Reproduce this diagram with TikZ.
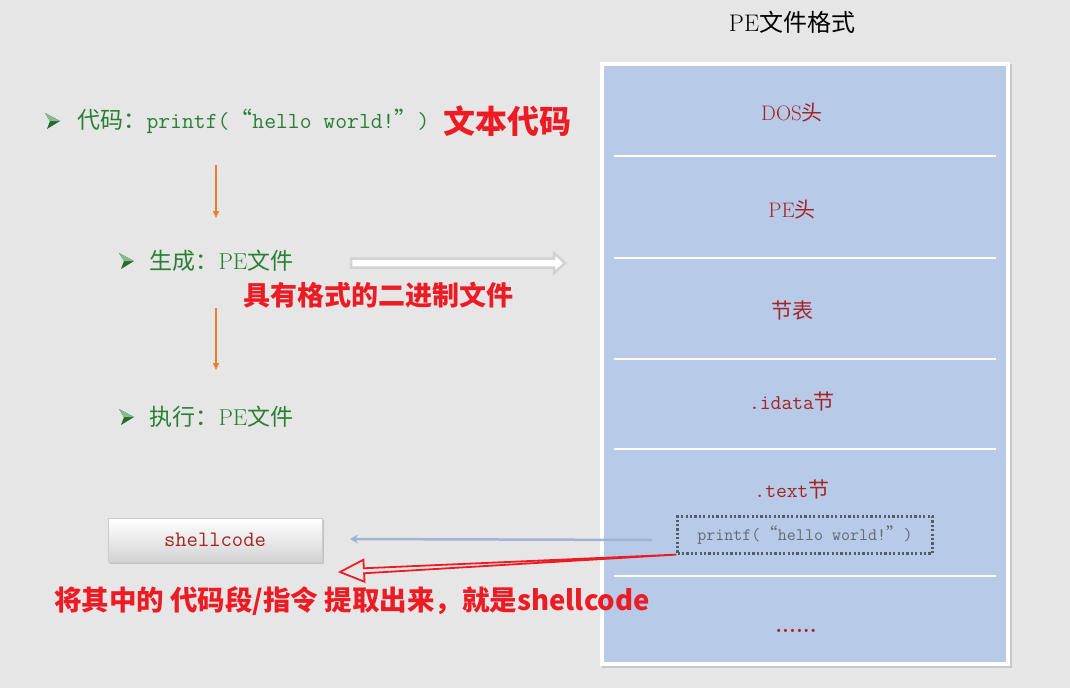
\documentclass[tikz,border=0pt]{standalone}
\usepackage{fontspec}
\newfontfamily\cjk{Noto Sans CJK SC}
\usetikzlibrary{arrows.meta,calc,shadows}

\definecolor{bgcol}{RGB}{230,230,230}
\definecolor{peblue}{RGB}{183,203,233}
\definecolor{codegreen}{RGB}{40,128,50}
\definecolor{pered}{RGB}{165,35,35}
\definecolor{hotred}{RGB}{237,28,36}
\definecolor{arroworange}{RGB}{237,125,49}
\definecolor{blueline}{RGB}{160,180,212}
\definecolor{dotgray}{RGB}{85,92,105}
\definecolor{codegray}{RGB}{100,105,115}

\newcommand{\monotxt}[1]{{\ttfamily #1}}

\tikzset{
  greentext/.style={text=codegreen, anchor=west, font=\fontsize{23}{27}\selectfont},
  redbold/.style={text=hotred, font=\cjk\bfseries\fontsize{27}{30}\selectfont},
  petext/.style={text=pered, font=\fontsize{21}{24}\selectfont},
  sepline/.style={white, line width=2pt},
  flowarrow/.style={draw=arroworange, line width=1.3pt, -{Triangle[length=7pt,width=6pt]}},
  shellbtn/.style={draw=gray!40, top color=white, bottom color=gray!35, drop shadow={opacity=0.35},
    minimum width=214pt, minimum height=44pt, text=pered, font=\fontsize{22}{24}\selectfont},
}

\begin{document}
\begin{tikzpicture}[x=1pt,y=-1pt]
\useasboundingbox (0,0) rectangle (1070,688);
\fill[bgcol] (0,0) rectangle (1070,688);

% PE layout on the right
\fill[white, drop shadow={opacity=0.3}] (600,62) rectangle (1010,666);
\fill[peblue] (604,66) rectangle (1006,662);
\foreach \y in {156,258,359,449,576}
  \draw[sepline] (614,\y) -- (996,\y);

\node (title) at (792,22) {\fontsize{24}{28}\selectfont PE{\cjk 文件格式}};
\node[petext] (dos) at (792,113) {DOS{\cjk 头}};
\node[petext] (pehead) at (792,210) {PE{\cjk 头}};
\node[petext] (sectab) at (792,311) {\cjk 节表};
\node[petext] (idata) at (792,401) {\monotxt{.idata}{\cjk 节}};
\node[petext] (textsec) at (792,489) {\monotxt{.text}{\cjk 节}};
\node[draw=dotgray, dash pattern=on 2.2pt off 2.2pt, line width=2.2pt, minimum width=255pt, minimum height=37pt,
  text=codegray, font=\fontsize{17.5}{20}\selectfont] (ptf) at (805,535)
  {\monotxt{printf(}{\cjk “}\monotxt{hello world!}{\cjk ”}\monotxt{)}};
\node[petext, font=\bfseries\fontsize{22}{24}\selectfont] (more) at (796,631) {......};

% left side
\foreach \bx/\by in {52/121,126/261,126/417} {
  \fill[codegreen!85!black] (\bx-7,\by-8) -- (\bx+8,\by) -- (\bx-5,\by+8) -- (\bx-2,\by) -- cycle;
  \fill[codegreen!55!white] (\bx-7,\by-8) -- (\bx+8,\by) -- (\bx-2,\by) -- cycle;
}
\node[greentext] (code) at (74,121)
  {{\cjk 代码：}\monotxt{printf(}{\cjk “}\monotxt{hello world!}{\cjk ”}\monotxt{)}};
\node[redbold, font=\cjk\bfseries\fontsize{32}{36}\selectfont, anchor=west] (plain) at (440,121) {文本代码};

\coordinate (a1) at (216,165);
\coordinate (a2) at (216,218);
\draw[flowarrow] (a1) -- (a2);

\node[greentext] (gen) at (146,261) {{\cjk 生成：}PE{\cjk 文件}};

\coordinate (w1) at (351,263);
\coordinate (w2) at (565,263);
\draw[gray!35, fill=white, line width=2.5pt, line join=miter] ($(w1)+(0,-4.5)$) -- ($(w2)+(-11,-4.5)$) -- ($(w2)+(-11,-10)$)
  -- (w2) -- ($(w2)+(-11,10)$) -- ($(w2)+(-11,4.5)$) -- ($(w1)+(0,4.5)$) -- cycle;

\node[redbold] (binfile) at (378,295) {具有格式的二进制文件};

\coordinate (a3) at (216,308);
\coordinate (a4) at (216,370);
\draw[flowarrow] (a3) -- (a4);

\node[greentext] (exec) at (146,417) {{\cjk 执行：}PE{\cjk 文件}};

\node[shellbtn] (shell) at (215,540) {\monotxt{shellcode}};

% extraction arrows
\coordinate (bluestart) at (652,540);
\coordinate (bluetip) at (350,539);
\draw[blueline, line width=2.5pt, -{Stealth[length=8pt,width=9pt]}] (bluestart) -- (bluetip);

\coordinate (rs) at (ptf.south west);
\coordinate (re) at (340,572);
\coordinate (rb) at ($(re)!24pt!(rs)$);
\draw[hotred, line width=1.8pt] (rs) -- ($(rb)!2.5pt!90:(rs)$) -- ($(rb)!11pt!90:(rs)$) -- (re)
  -- ($(rb)!11pt!-90:(rs)$) -- ($(rb)!2.5pt!-90:(rs)$) -- cycle;

\node[redbold, font=\cjk\bfseries\fontsize{27.5}{30}\selectfont] (extract) at (352,601) {将其中的 代码段/指令 提取出来，就是shellcode};
\end{tikzpicture}
\end{document}
